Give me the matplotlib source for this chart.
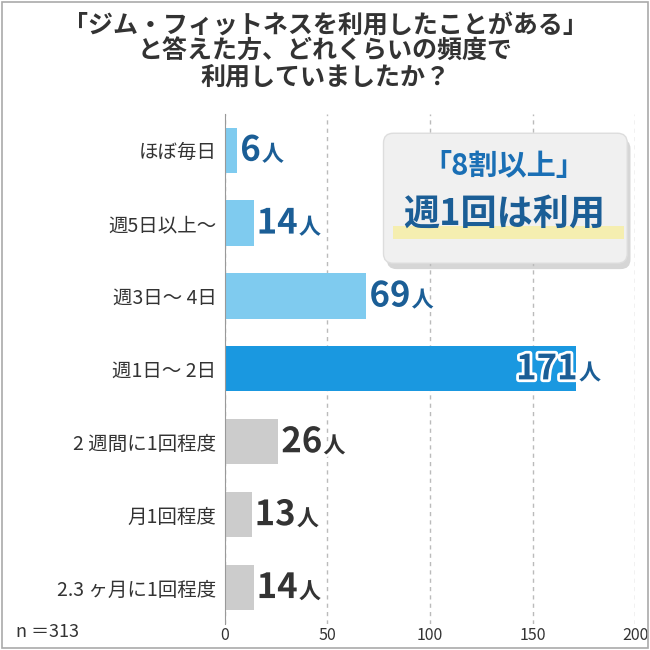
import matplotlib
matplotlib.use("Agg")
import matplotlib.pyplot as plt
import matplotlib.patheffects as pe
from matplotlib.patches import FancyBboxPatch

plt.rcParams['font.family'] = ['Noto Sans CJK JP', 'DejaVu Sans']

categories = ["ほぼ毎日", "週5日以上〜", "週3日〜 4日", "週1日〜 2日",
              "2 週間に1回程度", "月1回程度", "2.3 ヶ月に1回程度"]
counts = [6, 14, 69, 171, 26, 13, 14]
colors = ["#7fcbef", "#7fcbef", "#7fcbef", "#1a98e0", "#cccccc", "#cccccc", "#cccccc"]
label_colors = ["#1b5e96"] * 4 + ["#333333"] * 3
xticks = [0, 50, 100, 150, 200]

fig = plt.figure(figsize=(6.5, 6.5), dpi=100)
fig.patches.append(plt.Rectangle((0.003, 0.003), 0.994, 0.994, transform=fig.transFigure,
                                 fill=False, edgecolor="#aaaaaa", lw=1.2))
fig.text(0.5, 0.92, "「ジム・フィットネスを利用したことがある」\nと答えた方、どれくらいの頻度で\n利用していましたか？",
         ha="center", va="center", fontsize=18, fontweight="bold", color="#333333", linespacing=1.1)

ax = fig.add_axes([0.346, 0.04, 0.631, 0.785])
y = list(range(len(categories)))
ax.barh(y, counts, color=colors, height=0.62, zorder=2)
ax.set_ylim(len(categories) - 0.5, -0.5)
ax.set_xlim(0, 200)
ax.set_xticks(xticks)
ax.tick_params(axis="x", length=0, labelsize=11.5, colors="#333333", pad=2)
ax.set_yticks(y)
ax.set_yticklabels(categories, fontsize=14, color="#333333")
ax.tick_params(axis="y", length=0, pad=6)
for s in ["top", "right", "bottom"]:
    ax.spines[s].set_visible(False)
ax.spines["left"].set_color("#999999")
ax.grid(axis="x", linestyle=(0, (3, 3)), color="#bbbbbb", lw=1, zorder=0)

stroke = [pe.withStroke(linewidth=4, foreground="white")]
for i, (v, c) in enumerate(zip(counts, label_colors)):
    x0 = v + 1.5 if v < 150 else v - 29
    t = ax.text(x0, i, str(v), fontsize=25, fontweight="bold", color=c,
                va="center", ha="left", path_effects=stroke, zorder=4)
    fig.canvas.draw()
    bb = t.get_window_extent().transformed(ax.transData.inverted())
    ax.text(bb.x1 + 0.5, i + 0.06, "人", fontsize=16, fontweight="bold", color=c,
            va="center", ha="left", path_effects=stroke, zorder=4)

# callout box
box = FancyBboxPatch((0.59, 0.595), 0.375, 0.2, boxstyle="round,pad=0,rounding_size=0.015",
                     transform=fig.transFigure, facecolor="#f0f0f0", edgecolor="#dddddd",
                     lw=1, zorder=5)
shadow = FancyBboxPatch((0.595, 0.586), 0.375, 0.2, boxstyle="round,pad=0,rounding_size=0.015",
                        transform=fig.transFigure, facecolor="#bbbbbb", edgecolor="none",
                        alpha=0.6, zorder=4)
fig.patches.extend([shadow, box])
fig.patches.append(plt.Rectangle((0.605, 0.632), 0.355, 0.02, transform=fig.transFigure,
                                 facecolor="#f5eeb0", edgecolor="none", zorder=6))
fig.text(0.775, 0.745, "「8割以上」", ha="center", va="center", fontsize=21,
         fontweight="bold", color="#1a6fb5", zorder=7)
fig.text(0.775, 0.67, "週1回は利用", ha="center", va="center", fontsize=26,
         fontweight="bold", color="#1b5e96", zorder=7)

fig.text(0.025, 0.02, "n ＝313", fontsize=13, color="#333333")
fig.savefig("out.png", dpi=100)
